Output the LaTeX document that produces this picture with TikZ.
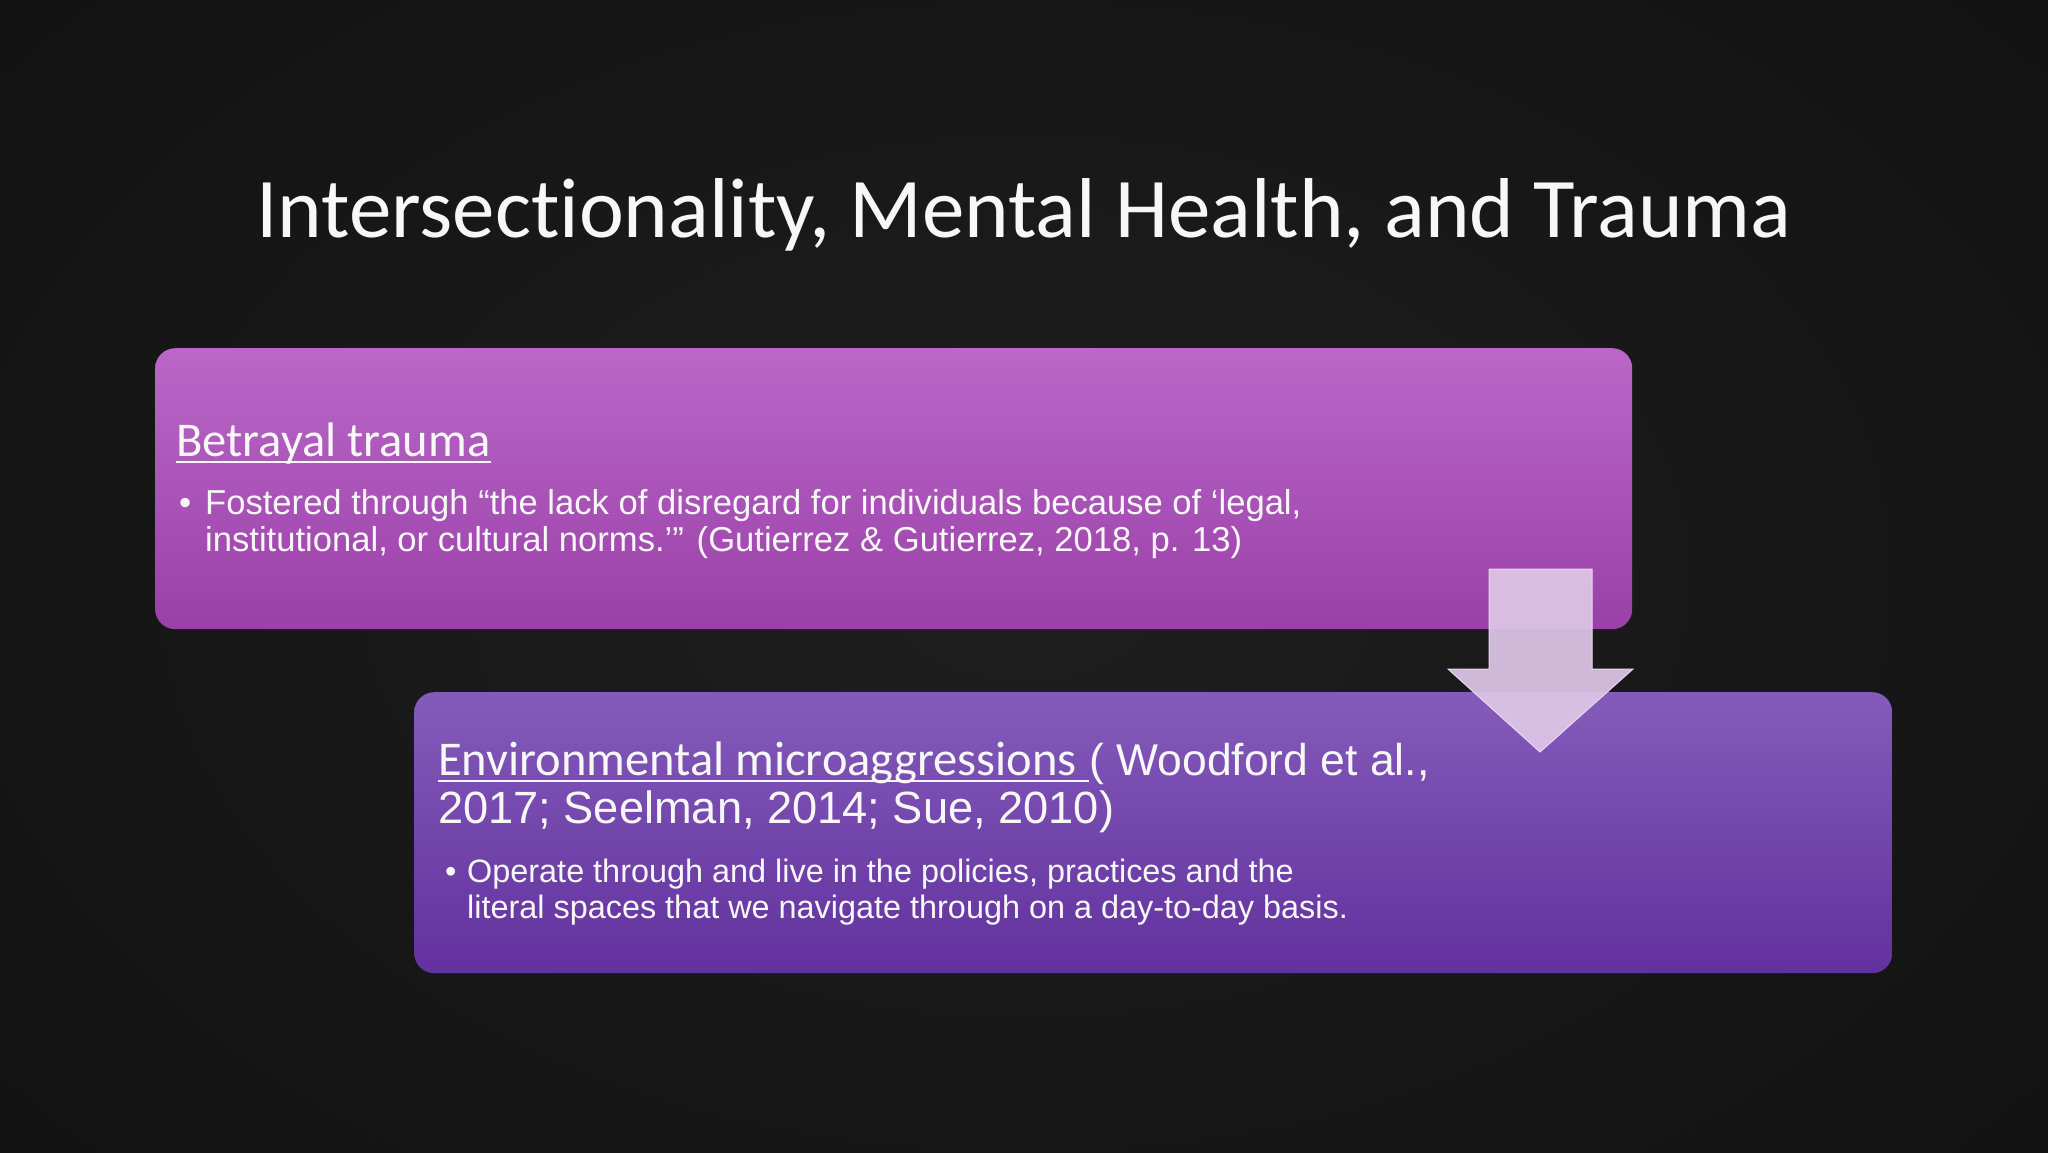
\documentclass[tikz,border=0pt]{standalone}
\usepackage{fontspec}
\setmainfont{Liberation Sans}
\newfontfamily\headfont[Ligatures={NoCommon,NoRequired,NoContextual}]{Carlito}
\definecolor{bgin}{HTML}{1F1F1F}
\definecolor{bgout}{HTML}{121212}
\definecolor{boxAtop}{HTML}{BA67C8}
\definecolor{boxAbot}{HTML}{9A40A8}
\definecolor{boxBtop}{HTML}{845BBA}
\definecolor{boxBbot}{HTML}{62319E}
\definecolor{arrowfill}{HTML}{DEC6E7}
\definecolor{txt}{HTML}{F7F7F7}
\tikzset{
  panel/.style={rounded corners=20pt, anchor=north west, inner sep=0pt},
  titletext/.style={inner sep=0pt, text=txt, font=\headfont\fontsize{85}{100}\selectfont},
  headtext/.style={inner sep=0pt, anchor=base west, text=txt, font=\headfont\fontsize{48.5}{56}\selectfont},
  citetext/.style={inner sep=0pt, anchor=base west, text=txt, font=\fontsize{44.5}{52}\selectfont},
  cite2text/.style={inner sep=0pt, anchor=base west, text=txt, font=\fontsize{45.2}{52}\selectfont},
  bodyAtext/.style={inner sep=0pt, anchor=base west, text=txt, font=\fontsize{34.6}{37}\selectfont},
  bodyBtext/.style={inner sep=0pt, anchor=base west, text=txt, font=\fontsize{32.4}{37}\selectfont},
  uline/.style={draw=txt, line width=2.5pt},
  downarrow/.style={fill=arrowfill, fill opacity=0.93, draw=arrowfill!70!white, line width=1pt}
}
\begin{document}
\begin{tikzpicture}[x=1pt,y=-1pt]
\useasboundingbox (0,0) rectangle (2048,1152);
\shade[inner color=bgin, outer color=bgout] (-300,-300) rectangle (2348,1452);
% title
\node[titletext, anchor=base] (title) at (1024,237) {Intersectionality, Mental Health, and Trauma};
% panels
\node[panel, top color=boxAtop, bottom color=boxAbot, minimum width=1477pt, minimum height=281pt] (boxA) at (155,348) {};
\node[panel, top color=boxBtop, bottom color=boxBbot, minimum width=1478pt, minimum height=281pt] (boxB) at (414,692) {};
% panel A text
\node[headtext] (headA) at (176,456) {Betrayal trauma};
\draw[uline] ([yshift=-6pt]headA.base west) -- ([yshift=-6pt]headA.base east);
\node[bodyAtext] (bulA) at (179,514) {•};
\node[bodyAtext] (bodyA1) at (205,514) {Fostered through “the lack of disregard for individuals because of ‘legal,};
\node[bodyAtext] (bodyA2) at (205,551) {institutional, or cultural norms.’” (Gutierrez \& Gutierrez, 2018, p. 13)};
% panel B text
\node[headtext] (headB) at (438,775) {Environmental microaggressions\hspace*{0.25em}\mbox{}};
\draw[uline] ([yshift=-6pt]headB.base west) -- ([yshift=-6pt]headB.base east);
\node[citetext] (citeB1) at (headB.base east) {( Woodford et al.,};
\node[cite2text] (citeB2) at (438,823) {2017; Seelman, 2014; Sue, 2010)};
\node[bodyBtext] (bulB) at (445,882) {•};
\node[bodyBtext] (bodyB1) at (467,882) {Operate through and live in the policies, practices and the};
\node[bodyBtext] (bodyB2) at (467,918) {literal spaces that we navigate through on a day-to-day basis.};
% arrow from panel A to panel B
\coordinate (arrowtip) at (1540,752);
\draw[downarrow] (1489,569) -- (1592,569) -- (1592,669) -- (1633,669) -- (arrowtip) -- (1448,669) -- (1489,669) -- cycle;
\end{tikzpicture}
\end{document}
